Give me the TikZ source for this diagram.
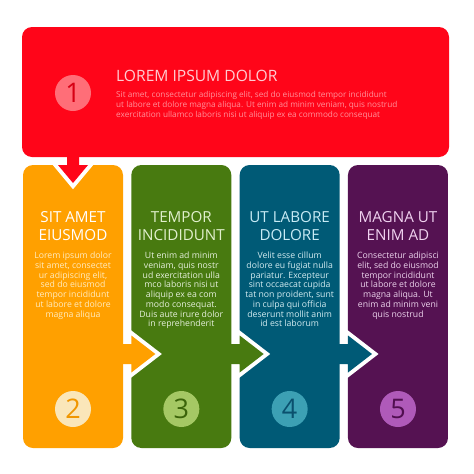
\documentclass[tikz,border=0pt]{standalone}
\usepackage{fontspec}
\setmainfont{Open Sans}
\usetikzlibrary{positioning,calc}
\definecolor{cred}{RGB}{255,5,25}
\definecolor{corange}{RGB}{255,160,0}
\definecolor{cgreen}{RGB}{72,122,16}
\definecolor{cblue}{RGB}{0,90,118}
\definecolor{cpurple}{RGB}{85,18,82}
\tikzset{
  panel/.style={fill=#1, rounded corners=10pt, minimum width=100pt, minimum height=283pt, inner sep=0pt, outer sep=0pt},
  numdisc/.style={circle, minimum size=36pt, inner sep=0pt, font=\fontsize{27}{27}\selectfont},
  headtext/.style={align=center, inner sep=0pt, font=\fontsize{15.2}{18}\selectfont},
  bodytext/.style={align=center, anchor=north, inner sep=0pt, font=\fontsize{8.7}{9.7}\selectfont},
}
\newcommand\sidearrow[3]{%
  \draw[white, line width=8pt, line join=miter] ($(#2.west)+(0,29)$) -- ($(#2.west)+(24,47.5)$) -- ($(#2.west)+(0,66)$) -- cycle;
  \fill[#3] ($(#1.east)+(-2,37.5)$) -- ($(#2.west)+(0,37.5)$) -- ($(#2.west)+(0,29)$) -- ($(#2.west)+(24,47.5)$)
    -- ($(#2.west)+(0,66)$) -- ($(#2.west)+(0,57.5)$) -- ($(#1.east)+(-2,57.5)$) -- cycle;
}
\begin{document}
\begin{tikzpicture}[x=1pt,y=-1pt]
\useasboundingbox[fill=white] (0,0) rectangle (474,474);
\node[fill=cred, rounded corners=10pt, minimum width=427pt, minimum height=130pt, inner sep=0pt, outer sep=0pt] (main) at (235.5,92) {};
\node[panel=corange, anchor=north west] (p2) at (23,165) {};
\node[panel=cgreen, right=8.33pt of p2] (p3) {};
\node[panel=cblue, right=8.33pt of p3] (p4) {};
\node[panel=cpurple, right=8.33pt of p4] (p5) {};

\draw[white, line width=8pt, line join=miter] ($(p2.north)+(-15,0)$) -- ($(p2.north)+(0,18)$) -- ($(p2.north)+(15,0)$) -- cycle;
\fill[cred] ($(p2.north)+(-6,-10)$) -- ($(p2.north)+(-6,0)$) -- ($(p2.north)+(-15,0)$) -- ($(p2.north)+(0,18)$)
  -- ($(p2.north)+(15,0)$) -- ($(p2.north)+(6,0)$) -- ($(p2.north)+(6,-10)$) -- cycle;
\sidearrow{p2}{p3}{corange}
\sidearrow{p3}{p4}{cgreen}
\sidearrow{p4}{p5}{cblue}

\node[numdisc, fill={rgb,255:red,255;green,110;blue,120}, text={rgb,255:red,215;green,0;blue,20}] (n1) at ($(main.west)+(51,1)$) {1};
\node[anchor=west, inner sep=0pt, text={rgb,255:red,255;green,205;blue,210}, font=\fontsize{15.6}{15.6}\selectfont] (t1) at ($(main.west)+(94,-16)$) {LOREM IPSUM DOLOR};
\node[anchor=west, align=left, inner sep=0pt, text={rgb,255:red,255;green,145;blue,155}, font=\fontsize{8.2}{10}\selectfont] (b1) at ($(main.west)+(94,13)$) {Sit amet, consectetur adipiscing elit, sed do eiusmod tempor incididunt\\ut labore et dolore magna aliqua. Ut enim ad minim veniam, quis nostrud\\exercitation ullamco laboris nisi ut aliquip ex ea commodo consequat};

\node[headtext, text=white] (t2) at ($(p2.north)+(0,61)$) {SIT AMET\\EIUSMOD};
\node[bodytext, text={rgb,255:red,255;green,235;blue,190}] (b2) at ($(p2.north)+(0,87)$) {Lorem ipsum dolor\\sit amet, consectet\\ur adipiscing elit,\\sed do eiusmod\\tempor incididunt\\ut labore et dolore\\magna aliqua};
\node[numdisc, fill={rgb,255:red,250;green,230;blue,185}, text={rgb,255:red,240;green,150;blue,0}] (n2) at ($(p2.south)+(0,-39)$) {2};

\node[headtext, text={rgb,255:red,225;green,240;blue,205}] (t3) at ($(p3.north)+(0,61)$) {TEMPOR\\INCIDIDUNT};
\node[bodytext, text={rgb,255:red,230;green,240;blue,220}] (b3) at ($(p3.north)+(0,87)$) {Ut enim ad minim\\veniam, quis nostr\\ud exercitation ulla\\mco laboris nisi ut\\aliquip ex ea com\\modo consequat.\\Duis aute irure dolor\\in reprehenderit};
\node[numdisc, fill={rgb,255:red,165;green,200;blue,100}, text={rgb,255:red,60;green,100;blue,10}] (n3) at ($(p3.south)+(0,-39)$) {3};

\node[headtext, text={rgb,255:red,200;green,235;blue,245}] (t4) at ($(p4.north)+(0,61)$) {UT LABORE\\DOLORE};
\node[bodytext, text={rgb,255:red,210;green,235;blue,240}] (b4) at ($(p4.north)+(0,87)$) {Velit esse cillum\\dolore eu fugiat nulla\\pariatur. Excepteur\\sint occaecat cupida\\tat non proident, sunt\\in culpa qui officia\\deserunt mollit anim\\id est laborum};
\node[numdisc, fill={rgb,255:red,60;green,160;blue,180}, text={rgb,255:red,10;green,80;blue,110}] (n4) at ($(p4.south)+(0,-39)$) {4};

\node[headtext, text={rgb,255:red,240;green,210;blue,240}] (t5) at ($(p5.north)+(0,61)$) {MAGNA UT\\ENIM AD};
\node[bodytext, text={rgb,255:red,235;green,210;blue,235}] (b5) at ($(p5.north)+(0,87)$) {Consectetur adipisci\\elit, sed do eiusmod\\tempor incididunt\\ut labore et dolore\\magna aliqua. Ut\\enim ad minim veni\\quis nostrud};
\node[numdisc, fill={rgb,255:red,175;green,90;blue,185}, text={rgb,255:red,80;green,15;blue,80}] (n5) at ($(p5.south)+(0,-39)$) {5};
\end{tikzpicture}
\end{document}
